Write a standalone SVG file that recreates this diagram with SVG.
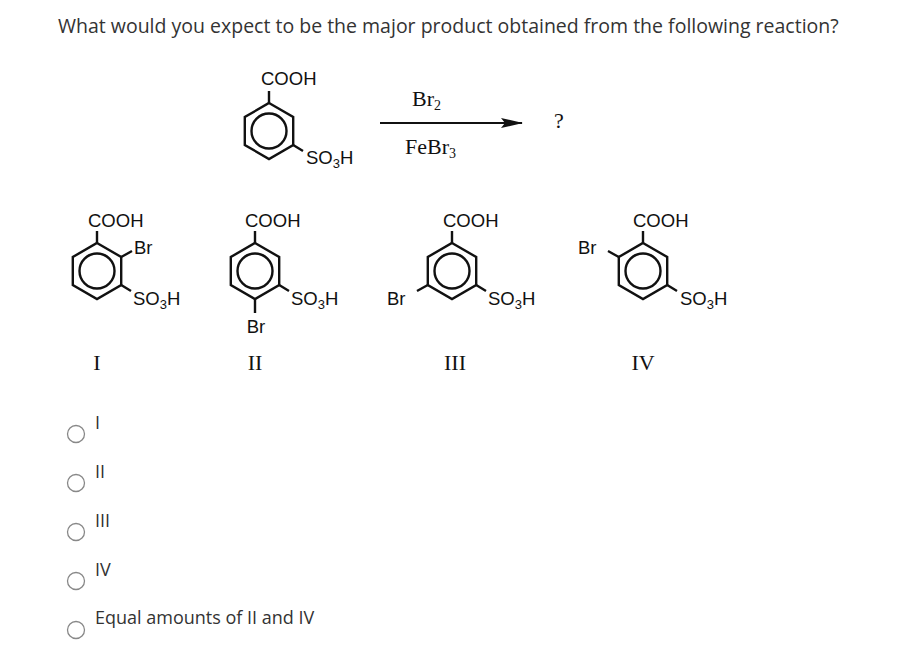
<svg xmlns="http://www.w3.org/2000/svg" width="909" height="657" viewBox="0 0 909 657">
<style>
.q{font-family:"Open Sans",sans-serif;font-size:19.5px;fill:#333}
.o{font-family:"Open Sans",sans-serif;font-size:18px;fill:#333}
.c{font-family:"Liberation Sans",Arial,sans-serif;font-size:18.5px;fill:#111}
.s{font-family:"Liberation Serif",serif;font-size:22px;fill:#111}
.b{stroke:#111;stroke-width:2.4;fill:none}
.r{stroke:#888;stroke-width:1.3;fill:#fff}
</style>
<defs>
<g id="ring"><polygon class="b" points="0,-28 24.2,-14 24.2,14 0,28 -24.2,14 -24.2,-14"/><circle class="b" r="17.5" stroke-width="2.2"/></g>
<marker id="ah" markerWidth="22" markerHeight="10" refX="21" refY="5" orient="auto" markerUnits="userSpaceOnUse"><path d="M0,0 L22,5 L0,10 L4,5z" fill="#111"/></marker>
</defs>
<rect width="909" height="657" fill="#fff"/>
<text class="q" x="58" y="33">What would you expect to be the major product obtained from the following reaction?</text>
<g id="reactant"><use href="#ring" x="269" y="131"/><path class="b" d="M269,103V91M293.2,145L303,151"/>
<text class="c" x="261" y="85">COOH</text><text class="c" x="306" y="164">SO<tspan font-size="13" dy="4">3</tspan><tspan dy="-4">H</tspan></text></g>
<g id="connectors"><line x1="380" y1="123" x2="522" y2="123" stroke="#111" stroke-width="2" marker-end="url(#ah)"/></g>
<text class="s" x="412" y="106">Br<tspan font-size="14" dy="4">2</tspan></text>
<text class="s" x="405" y="154">FeBr<tspan font-size="14" dy="4">3</tspan></text>
<text class="s" x="554" y="128" font-size="19">?</text>
<g id="I"><use href="#ring" x="97" y="271"/><path class="b" d="M97,243V231M121.2,257L132,251M121.2,285L131,291"/>
<text class="c" x="88" y="227">COOH</text><text class="c" x="134" y="254">Br</text><text class="c" x="133" y="305">SO<tspan font-size="13" dy="4">3</tspan><tspan dy="-4">H</tspan></text>
<text class="s" x="97" y="370" text-anchor="middle">I</text></g>
<g id="II"><use href="#ring" x="255" y="271"/><path class="b" d="M255,243V231M279.2,285L289,291M255,299V313"/>
<text class="c" x="245" y="227">COOH</text><text class="c" x="291" y="305">SO<tspan font-size="13" dy="4">3</tspan><tspan dy="-4">H</tspan></text><text class="c" x="256" y="333" text-anchor="middle">Br</text>
<text class="s" x="255" y="370" text-anchor="middle">II</text></g>
<g id="III"><use href="#ring" x="452" y="271"/><path class="b" d="M452,243V231M476.2,285L486,291M427.8,285L417,291"/>
<text class="c" x="443" y="227">COOH</text><text class="c" x="488" y="305">SO<tspan font-size="13" dy="4">3</tspan><tspan dy="-4">H</tspan></text><text class="c" x="387" y="305">Br</text>
<text class="s" x="455" y="370" text-anchor="middle">III</text></g>
<g id="IV"><use href="#ring" x="643" y="271"/><path class="b" d="M643,243V231M667.2,285L677,291M618.8,257L608,251"/>
<text class="c" x="633" y="227">COOH</text><text class="c" x="680" y="305">SO<tspan font-size="13" dy="4">3</tspan><tspan dy="-4">H</tspan></text><text class="c" x="578" y="254">Br</text>
<text class="s" x="643" y="370" text-anchor="middle">IV</text></g>
<g id="options">
<circle class="r" cx="76" cy="434" r="8.5"/><text class="o" x="95" y="429">I</text>
<circle class="r" cx="76" cy="483" r="8.5"/><text class="o" x="95" y="478">II</text>
<circle class="r" cx="76" cy="532" r="8.5"/><text class="o" x="95" y="527">III</text>
<circle class="r" cx="76" cy="581" r="8.5"/><text class="o" x="95" y="576">IV</text>
<circle class="r" cx="76" cy="630" r="8.5"/><text class="o" x="95" y="624">Equal amounts of II and IV</text>
</g>
</svg>
